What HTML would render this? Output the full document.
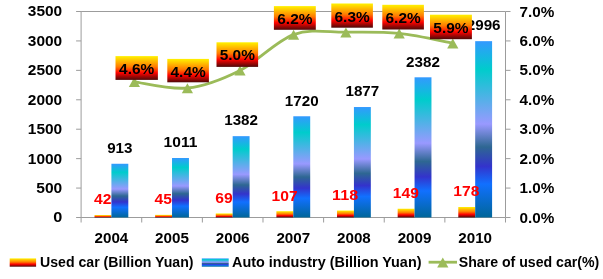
<!DOCTYPE html>
<html><head><meta charset="utf-8"><title>Used car market chart</title>
<style>html,body{margin:0;padding:0;background:#fff}svg{display:block}</style></head>
<body>
<svg width="603" height="279" viewBox="0 0 603 279" font-family='"Liberation Sans", sans-serif' font-weight="bold">
<defs>
<linearGradient id="fire" x1="0" y1="0" x2="0" y2="1">
<stop offset="0" stop-color="#FFF200"/><stop offset="0.45" stop-color="#FF7A00"/><stop offset="0.70" stop-color="#FF0300"/><stop offset="1" stop-color="#4D0808"/>
</linearGradient>
<linearGradient id="pea" x1="0" y1="0" x2="0" y2="1">
<stop offset="0" stop-color="#3399FF"/><stop offset="0.16" stop-color="#00CCCC"/><stop offset="0.47" stop-color="#9999FF"/><stop offset="0.60" stop-color="#2E6792"/><stop offset="0.71" stop-color="#3333CC"/><stop offset="0.81" stop-color="#1170FF"/><stop offset="1" stop-color="#006699"/>
</linearGradient>
</defs>
<rect width="603" height="279" fill="#fff"/>
<g stroke="#9c9c9c" stroke-width="1" fill="none">
<path d="M81.1 11.5H505.5"/>
<path d="M81.1 11.5V217.5"/><path d="M505.5 11.5V217.5"/><path d="M81.1 217.5H505.5"/>
<path d="M76.1 11.50H81.1"/><path d="M505.5 11.50H510.5"/>
<path d="M76.1 40.93H81.1"/><path d="M505.5 40.93H510.5"/>
<path d="M76.1 70.36H81.1"/><path d="M505.5 70.36H510.5"/>
<path d="M76.1 99.79H81.1"/><path d="M505.5 99.79H510.5"/>
<path d="M76.1 129.21H81.1"/><path d="M505.5 129.21H510.5"/>
<path d="M76.1 158.64H81.1"/><path d="M505.5 158.64H510.5"/>
<path d="M76.1 188.07H81.1"/><path d="M505.5 188.07H510.5"/>
<path d="M76.1 217.50H81.1"/><path d="M505.5 217.50H510.5"/>
<path d="M81.10 217.5V222.5"/>
<path d="M141.73 217.5V222.5"/>
<path d="M202.36 217.5V222.5"/>
<path d="M262.99 217.5V222.5"/>
<path d="M323.61 217.5V222.5"/>
<path d="M384.24 217.5V222.5"/>
<path d="M444.87 217.5V222.5"/>
<path d="M505.50 217.5V222.5"/>
</g>
<text x="62.20" y="222.40" font-size="14.7" text-anchor="end" fill="#000" textLength="9.05" lengthAdjust="spacingAndGlyphs">0</text>
<text x="62.20" y="192.97" font-size="14.7" text-anchor="end" fill="#000" textLength="25.95" lengthAdjust="spacingAndGlyphs">500</text>
<text x="62.20" y="163.54" font-size="14.7" text-anchor="end" fill="#000" textLength="34.40" lengthAdjust="spacingAndGlyphs">1000</text>
<text x="62.20" y="134.11" font-size="14.7" text-anchor="end" fill="#000" textLength="34.40" lengthAdjust="spacingAndGlyphs">1500</text>
<text x="62.20" y="104.69" font-size="14.7" text-anchor="end" fill="#000" textLength="34.40" lengthAdjust="spacingAndGlyphs">2000</text>
<text x="62.20" y="75.26" font-size="14.7" text-anchor="end" fill="#000" textLength="34.40" lengthAdjust="spacingAndGlyphs">2500</text>
<text x="62.20" y="45.83" font-size="14.7" text-anchor="end" fill="#000" textLength="34.40" lengthAdjust="spacingAndGlyphs">3000</text>
<text x="62.20" y="16.40" font-size="14.7" text-anchor="end" fill="#000" textLength="34.40" lengthAdjust="spacingAndGlyphs">3500</text>
<text x="519.60" y="222.60" font-size="14.7" text-anchor="start" fill="#000" textLength="34.80" lengthAdjust="spacingAndGlyphs">0.0%</text>
<text x="519.60" y="193.17" font-size="14.7" text-anchor="start" fill="#000" textLength="34.80" lengthAdjust="spacingAndGlyphs">1.0%</text>
<text x="519.60" y="163.74" font-size="14.7" text-anchor="start" fill="#000" textLength="34.80" lengthAdjust="spacingAndGlyphs">2.0%</text>
<text x="519.60" y="134.31" font-size="14.7" text-anchor="start" fill="#000" textLength="34.80" lengthAdjust="spacingAndGlyphs">3.0%</text>
<text x="519.60" y="104.89" font-size="14.7" text-anchor="start" fill="#000" textLength="34.80" lengthAdjust="spacingAndGlyphs">4.0%</text>
<text x="519.60" y="75.46" font-size="14.7" text-anchor="start" fill="#000" textLength="34.80" lengthAdjust="spacingAndGlyphs">5.0%</text>
<text x="519.60" y="46.03" font-size="14.7" text-anchor="start" fill="#000" textLength="34.80" lengthAdjust="spacingAndGlyphs">6.0%</text>
<text x="519.60" y="16.60" font-size="14.7" text-anchor="start" fill="#000" textLength="34.80" lengthAdjust="spacingAndGlyphs">7.0%</text>
<rect x="94.51" y="215.03" width="16.9" height="2.47" fill="url(#fire)"/>
<rect x="111.41" y="163.76" width="16.9" height="53.74" fill="url(#pea)"/>
<text x="119.86" y="153.06" font-size="14.7" text-anchor="middle" fill="#000" textLength="25.35" lengthAdjust="spacingAndGlyphs">913</text>
<text x="102.66" y="204.43" font-size="15.0" text-anchor="middle" fill="#FF0000" textLength="17.40" lengthAdjust="spacingAndGlyphs">42</text>
<text x="111.41" y="243.10" font-size="14.7" text-anchor="middle" fill="#000" textLength="33.80" lengthAdjust="spacingAndGlyphs">2004</text>
<rect x="155.14" y="214.85" width="16.9" height="2.65" fill="url(#fire)"/>
<rect x="172.04" y="158.00" width="16.9" height="59.50" fill="url(#pea)"/>
<text x="180.49" y="147.30" font-size="14.7" text-anchor="middle" fill="#000" textLength="33.80" lengthAdjust="spacingAndGlyphs">1011</text>
<text x="163.29" y="204.25" font-size="15.0" text-anchor="middle" fill="#FF0000" textLength="17.40" lengthAdjust="spacingAndGlyphs">45</text>
<text x="172.04" y="243.10" font-size="14.7" text-anchor="middle" fill="#000" textLength="33.80" lengthAdjust="spacingAndGlyphs">2005</text>
<rect x="215.77" y="213.44" width="16.9" height="4.06" fill="url(#fire)"/>
<rect x="232.67" y="136.16" width="16.9" height="81.34" fill="url(#pea)"/>
<text x="241.12" y="125.46" font-size="14.7" text-anchor="middle" fill="#000" textLength="33.80" lengthAdjust="spacingAndGlyphs">1382</text>
<text x="223.92" y="202.84" font-size="15.0" text-anchor="middle" fill="#FF0000" textLength="17.40" lengthAdjust="spacingAndGlyphs">69</text>
<text x="232.67" y="243.10" font-size="14.7" text-anchor="middle" fill="#000" textLength="33.80" lengthAdjust="spacingAndGlyphs">2006</text>
<rect x="276.40" y="211.20" width="16.9" height="6.30" fill="url(#fire)"/>
<rect x="293.30" y="116.27" width="16.9" height="101.23" fill="url(#pea)"/>
<text x="301.75" y="105.57" font-size="14.7" text-anchor="middle" fill="#000" textLength="33.80" lengthAdjust="spacingAndGlyphs">1720</text>
<text x="284.55" y="200.60" font-size="15.0" text-anchor="middle" fill="#FF0000" textLength="26.10" lengthAdjust="spacingAndGlyphs">107</text>
<text x="293.30" y="243.10" font-size="14.7" text-anchor="middle" fill="#000" textLength="33.80" lengthAdjust="spacingAndGlyphs">2007</text>
<rect x="337.03" y="210.55" width="16.9" height="6.95" fill="url(#fire)"/>
<rect x="353.93" y="107.03" width="16.9" height="110.47" fill="url(#pea)"/>
<text x="362.38" y="96.33" font-size="14.7" text-anchor="middle" fill="#000" textLength="33.80" lengthAdjust="spacingAndGlyphs">1877</text>
<text x="345.18" y="199.95" font-size="15.0" text-anchor="middle" fill="#FF0000" textLength="26.10" lengthAdjust="spacingAndGlyphs">118</text>
<text x="353.93" y="243.10" font-size="14.7" text-anchor="middle" fill="#000" textLength="33.80" lengthAdjust="spacingAndGlyphs">2008</text>
<rect x="397.66" y="208.73" width="16.9" height="8.77" fill="url(#fire)"/>
<rect x="414.56" y="77.30" width="16.9" height="140.20" fill="url(#pea)"/>
<text x="423.01" y="66.60" font-size="14.7" text-anchor="middle" fill="#000" textLength="33.80" lengthAdjust="spacingAndGlyphs">2382</text>
<text x="405.81" y="198.13" font-size="15.0" text-anchor="middle" fill="#FF0000" textLength="26.10" lengthAdjust="spacingAndGlyphs">149</text>
<text x="414.56" y="243.10" font-size="14.7" text-anchor="middle" fill="#000" textLength="33.80" lengthAdjust="spacingAndGlyphs">2009</text>
<rect x="458.29" y="207.02" width="16.9" height="10.48" fill="url(#fire)"/>
<rect x="475.19" y="41.16" width="16.9" height="176.34" fill="url(#pea)"/>
<text x="483.64" y="30.46" font-size="14.7" text-anchor="middle" fill="#000" textLength="33.80" lengthAdjust="spacingAndGlyphs">2996</text>
<text x="466.44" y="196.42" font-size="15.0" text-anchor="middle" fill="#FF0000" textLength="26.10" lengthAdjust="spacingAndGlyphs">178</text>
<text x="475.19" y="243.10" font-size="14.7" text-anchor="middle" fill="#000" textLength="33.80" lengthAdjust="spacingAndGlyphs">2010</text>
<path d="M134.40 81.80C143.23 82.83 169.80 89.90 187.40 88.00C205.00 86.10 222.30 79.30 240.00 70.40C257.70 61.50 275.95 40.97 293.60 34.60C311.25 28.23 328.30 32.40 345.90 32.20C363.50 32.00 381.38 31.57 399.20 33.40C417.02 35.23 443.87 41.57 452.80 43.20" fill="none" stroke="#9BBB59" stroke-width="2.8" stroke-linecap="round"/>
<path d="M134.40 77.00L140.00 87.00H128.80Z" fill="#9BBB59"/>
<path d="M187.40 83.20L193.00 93.20H181.80Z" fill="#9BBB59"/>
<path d="M240.00 65.60L245.60 75.60H234.40Z" fill="#9BBB59"/>
<path d="M293.60 29.80L299.20 39.80H288.00Z" fill="#9BBB59"/>
<path d="M345.90 27.40L351.50 37.40H340.30Z" fill="#9BBB59"/>
<path d="M399.20 28.60L404.80 38.60H393.60Z" fill="#9BBB59"/>
<path d="M452.80 38.40L458.40 48.40H447.20Z" fill="#9BBB59"/>
<rect x="115.5" y="56.1" width="42.40" height="23.80" fill="url(#fire)"/>
<text x="136.70" y="74.10" font-size="14.7" text-anchor="middle" fill="#000" textLength="35.20" lengthAdjust="spacingAndGlyphs">4.6%</text>
<rect x="167.3" y="58.9" width="41.60" height="23.40" fill="url(#fire)"/>
<text x="188.10" y="76.90" font-size="14.7" text-anchor="middle" fill="#000" textLength="35.20" lengthAdjust="spacingAndGlyphs">4.4%</text>
<rect x="216.5" y="42.3" width="41.60" height="24.60" fill="url(#fire)"/>
<text x="237.30" y="60.30" font-size="14.7" text-anchor="middle" fill="#000" textLength="35.20" lengthAdjust="spacingAndGlyphs">5.0%</text>
<rect x="273.9" y="6.1" width="41.90" height="23.70" fill="url(#fire)"/>
<text x="294.85" y="24.10" font-size="14.7" text-anchor="middle" fill="#000" textLength="35.20" lengthAdjust="spacingAndGlyphs">6.2%</text>
<rect x="331.3" y="3.5" width="41.60" height="24.20" fill="url(#fire)"/>
<text x="352.10" y="21.50" font-size="14.7" text-anchor="middle" fill="#000" textLength="35.20" lengthAdjust="spacingAndGlyphs">6.3%</text>
<rect x="382.3" y="4.8" width="41.60" height="24.70" fill="url(#fire)"/>
<text x="403.10" y="22.80" font-size="14.7" text-anchor="middle" fill="#000" textLength="35.20" lengthAdjust="spacingAndGlyphs">6.2%</text>
<rect x="430.0" y="14.7" width="41.90" height="24.50" fill="url(#fire)"/>
<text x="450.95" y="32.70" font-size="14.7" text-anchor="middle" fill="#000" textLength="35.20" lengthAdjust="spacingAndGlyphs">5.9%</text>
<rect x="9.7" y="258.4" width="26.4" height="8.3" fill="url(#fire)"/>
<text x="40.00" y="266.70" font-size="14.7" text-anchor="start" fill="#000" textLength="153.50" lengthAdjust="spacingAndGlyphs">Used car (Billion Yuan)</text>
<rect x="201.8" y="258.4" width="26.9" height="8.3" fill="url(#pea)"/>
<text x="232.00" y="266.70" font-size="14.7" text-anchor="start" fill="#000" textLength="189.50" lengthAdjust="spacingAndGlyphs">Auto industry (Billion Yuan)</text>
<path d="M428.6 262.2H457" stroke="#9BBB59" stroke-width="2.8" fill="none"/>
<path d="M442.8 257.4L448.4 267.4H437.2Z" fill="#9BBB59"/>
<text x="458.80" y="266.70" font-size="14.7" text-anchor="start" fill="#000" textLength="140.50" lengthAdjust="spacingAndGlyphs">Share of used car(%)</text>
</svg>
</body></html>
